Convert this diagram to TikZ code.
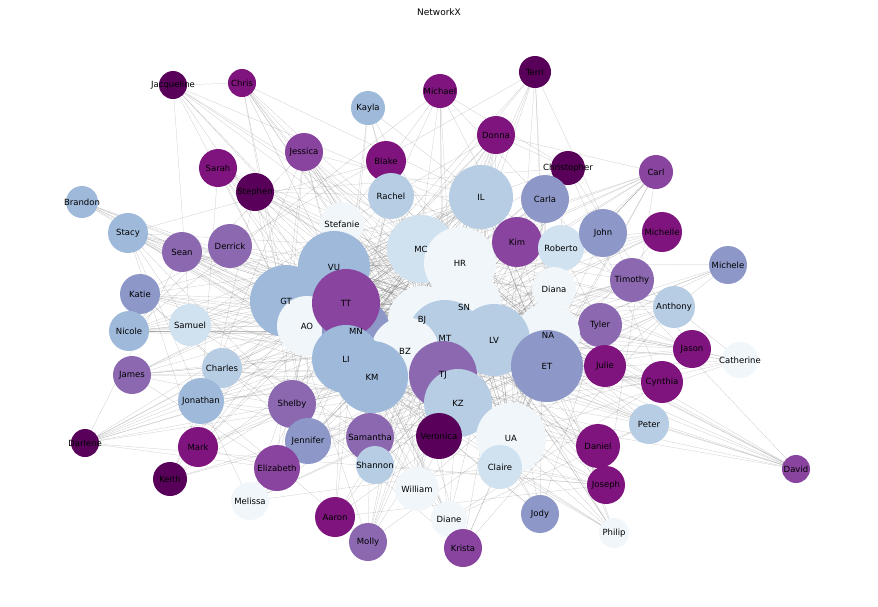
\documentclass[tikz,border=0pt]{standalone}
\usepackage{fontspec}
\setmainfont{DejaVu Sans}
\usetikzlibrary{backgrounds}
\definecolor{ca}{HTML}{F0F6FA}
\definecolor{cb}{HTML}{D0E1EF}
\definecolor{cc}{HTML}{B7CDE4}
\definecolor{cd}{HTML}{9EB9DA}
\definecolor{ce}{HTML}{8D98C8}
\definecolor{cf}{HTML}{8B68B0}
\definecolor{cg}{HTML}{88449E}
\definecolor{ch}{HTML}{80147E}
\definecolor{ci}{HTML}{58005A}
\tikzset{nd/.style={circle,inner sep=0pt},
lbl/.style={inner sep=0pt,font=\fontsize{8.5}{8.5}\selectfont},
edge/.style={draw=gray,line width=0.25pt,opacity=0.45}}
\def\nodelist{
Jacqueline/173/85/14/ci, Chris/242/83/14/ch, Kayla/368/108/17/cd, Michael/440/91/17/ch,
Terri/535/72/16/ci, Donna/496/135/19/ch, Jessica/304/152/19/cg, Blake/386/161/20/ch,
Sarah/218/168/19/ch, Stephen/255/192/19/ci, Christopher/568/168/17/ci, Carl/656/172/17/cg,
Brandon/82/202/16/cd, Rachel/391/196/23/cc, IL/481/197/32/cc, Carla/545/199/24/ce,
Stacy/128/233/20/cd, Stefanie/342/224/22/ca, Derrick/230/246/22/cf, Sean/182/252/20/cf,
MC/421/249/34/cb, HR/460/263/36/ca, Kim/517/242/25/cg, Roberto/561/248/23/cb,
John/603/233/24/ce, Michelle/662/232/20/ch, Michele/728/265/19/ce, VU/334/267/36/cd,
Timothy/632/280/22/cf, Diana/554/289/22/ca, Katie/140/294/20/ce, GT/286/301/36/cd,
SN/464/307/38/ca, AO/307/326/30/ca, BJ/422/320/34/ca, MN/356/331/34/ce, TT/346/303/34/cg,
Anthony/674/307/21/cc, Samuel/190/325/21/cb, Tyler/600/325/22/cf, NA/548/335/32/ca,
Nicole/129/331/20/cd, LV/494/340/36/cc, MT/445/338/38/cc, Jason/692/349/19/ch, BZ/405/351/34/ca,
LI/346/359/34/cd, Catherine/740/360/18/ca, Julie/605/366/21/ch, ET/547/366/36/ce,
Charles/222/368/20/cc, James/132/375/19/cf, KM/372/377/36/cd, TJ/443/375/34/cf,
Cynthia/662/382/21/ch, Jonathan/201/401/23/cd, KZ/458/403/34/cc, Shelby/292/404/24/cf,
Peter/649/424/20/cc, Jennifer/308/441/23/ce, UA/511/438/35/ca, Samantha/370/437/24/cf,
Veronica/439/436/23/ci, Darlene/85/443/14/ci, Mark/198/447/20/ch, Daniel/598/446/22/ch,
Shannon/375/465/19/cc, Claire/500/467/22/cb, Elizabeth/277/468/23/cg, David/796/469/14/cg,
Keith/170/479/17/ci, Joseph/606/485/19/ch, William/417/489/22/ca, Melissa/250/501/19/ca,
Aaron/335/517/20/ch, Jody/540/514/19/ce, Diane/449/519/18/ca, Philip/614/533/15/ca,
Molly/368/542/19/cf, Krista/463/548/19/cg}
\def\allnames{Jacqueline,Chris,Kayla,Michael,Terri,Donna,Jessica,Blake,Sarah,Stephen,Christopher,Carl,Brandon,Rachel,Carla,Stacy,Stefanie,Derrick,Sean,Kim,Roberto,John,Michelle,Michele,Timothy,Diana,Katie,Anthony,Samuel,Tyler,Nicole,Jason,Catherine,Julie,Charles,James,Cynthia,Jonathan,Shelby,Peter,Jennifer,Samantha,Veronica,Darlene,Mark,Daniel,Shannon,Claire,Elizabeth,David,Keith,Joseph,William,Melissa,Aaron,Jody,Diane,Philip,Molly,Krista}
\def\hubs{IL,MC,HR,VU,GT,SN,AO,BJ,MN,TT,NA,LV,MT,BZ,LI,ET,KM,TJ,KZ,UA}
\begin{document}
\begin{tikzpicture}[x=1pt,y=-1pt]
\useasboundingbox (0,0) rectangle (878,606);
\node[font=\fontsize{9}{9}\selectfont] (title) at (439,12) {NetworkX};
\foreach \n/\x/\y/\r/\c in \nodelist
{\node[nd,fill=\c,minimum size=2*\r pt] (\n) at (\x,\y) {};}
\foreach \n/\x/\y/\r/\c in \nodelist
{\node[lbl] (\n-t) at (\n.center) {\n};}
\pgfmathsetseed{7}
\begin{scope}[on background layer]
\foreach \a in \allnames {\foreach \h in \hubs {
  \pgfmathsetmacro\p{rnd}
  \ifdim\p pt<0.33pt \draw[edge] (\a.center) -- (\h.center);\fi}}
\foreach \a in \hubs {\foreach \h in \hubs {\draw[edge] (\a.center) -- (\h.center);}}
\foreach \a in \allnames {\foreach \h in \allnames {
  \pgfmathsetmacro\p{rnd}
  \ifdim\p pt<0.025pt \draw[edge] (\a.center) -- (\h.center);\fi}}
\end{scope}
\end{tikzpicture}
\end{document}
